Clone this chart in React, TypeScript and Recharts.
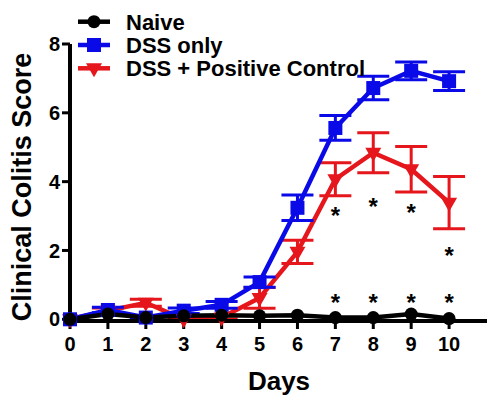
import React from 'react';
import { ComposedChart, Line, Scatter, XAxis, YAxis, ErrorBar, Label } from 'recharts';

const days = [0, 1, 2, 3, 4, 5, 6, 7, 8, 9, 10];
const naive = [0, 0.15, 0.05, 0.1, 0.12, 0.1, 0.12, 0.05, 0.05, 0.15, 0.02];
const dssOnly = [0, 0.27, 0.05, 0.25, 0.42, 1.08, 3.24, 5.56, 6.72, 7.22, 6.92];
const dssOnlyErr = [0, 0.08, 0.05, 0.08, 0.1, 0.15, 0.37, 0.36, 0.34, 0.26, 0.27];
const posCtrl = [0, 0.25, 0.48, 0, 0.05, 0.62, 1.96, 4.07, 4.84, 4.36, 3.39];
const posCtrlErr = [0, 0.08, 0.1, 0.05, 0.05, 0.3, 0.34, 0.48, 0.58, 0.66, 0.76];
const starDays = [7, 8, 9, 10, 7, 8, 9, 10];
const starValues = [3.18, 3.44, 3.26, 2.02, 0.65, 0.65, 0.65, 0.65];
const yTicks = [0, 2, 4, 6, 8];
const seriesNames = ['Naive', 'DSS only', 'DSS + Positive Control'];

const BLUE = '#0a0ae8';
const RED = '#e5161c';
const BLACK = '#000000';
const FONT = '"Liberation Sans", Arial, Helvetica, sans-serif';

const data = days.map((d, i) => ({
  day: d,
  naive: naive[i],
  dss: dssOnly[i],
  dssErr: dssOnlyErr[i],
  pc: posCtrl[i],
  pcErr: posCtrlErr[i],
}));

const stars = starDays.map((d, i) => ({ day: d, y: starValues[i] }));

const Square = ({ cx, cy }: any) =>
  cx == null || cy == null ? null : <rect x={cx - 7} y={cy - 7} width={14} height={14} fill={BLUE} />;
const Tri = ({ cx, cy }: any) =>
  cx == null || cy == null ? null : (
    <polygon points={`${cx - 8},${cy - 5} ${cx + 8},${cy - 5} ${cx},${cy + 9}`} fill={RED} />
  );
const Circ = ({ cx, cy }: any) =>
  cx == null || cy == null ? null : <circle cx={cx} cy={cy} r={6.5} fill={BLACK} />;

const StarShape = ({ cx, cy }: any) =>
  cx == null || cy == null ? null : (
    <text x={cx} y={cy + 14} textAnchor="middle" fontSize={24} fontWeight="bold" fontFamily={FONT} fill="#000">
      *
    </text>
  );

const LegendBox = () => {
  const rows = [
    { name: seriesNames[0], color: BLACK, y: 21.7, m: 'c' },
    { name: seriesNames[1], color: BLUE, y: 45, m: 's' },
    { name: seriesNames[2], color: RED, y: 68.3, m: 't' },
  ];
  return (
    <svg width={400} height={85} style={{ position: 'absolute', left: 0, top: 0, display: 'block' }}>
      {rows.map((r) => (
        <g key={r.name}>
          <line x1={78} x2={110} y1={r.y} y2={r.y} stroke={r.color} strokeWidth={4.5} />
          {r.m === 'c' && <circle cx={94} cy={r.y} r={6.5} fill={r.color} />}
          {r.m === 's' && <rect x={87} y={r.y - 7} width={14} height={14} fill={r.color} />}
          {r.m === 't' && (
            <polygon points={`86,${r.y - 5} 102,${r.y - 5} 94,${r.y + 9}`} fill={r.color} />
          )}
          <text x={126} y={r.y + 8} fontSize={22} fontWeight="bold" fontFamily={FONT} fill="#000">
            {r.name}
          </text>
        </g>
      ))}
    </svg>
  );
};

const tickStyle = { fill: '#000', fontSize: 20, fontWeight: 'bold', fontFamily: FONT } as any;

export default function App() {
  return (
    <div style={{ position: 'absolute', left: 0, top: 0, width: 500, height: 407, background: '#fff' }}>
      <ComposedChart width={500} height={407} data={data} margin={{ top: 44, right: 13, bottom: 0, left: 0 }}>
        <XAxis
          dataKey="day"
          type="number"
          domain={[0, 10.5]}
          ticks={days}
          height={86}
          tickSize={8}
          tickMargin={8}
          tick={tickStyle}
          axisLine={{ stroke: '#000', strokeWidth: 4 }}
          tickLine={{ stroke: '#000', strokeWidth: 3 }}
          interval={0}
          allowDecimals={false}
        >
          <Label
            content={() => (
              <text x={279} y={390} textAnchor="middle" fontSize={26} fontWeight="bold" fontFamily={FONT} fill="#000">
                Days
              </text>
            )}
          />
        </XAxis>
        <YAxis
          type="number"
          domain={[0, 8]}
          ticks={yTicks}
          width={70}
          tickSize={8}
          tickMargin={2}
          tick={tickStyle}
          axisLine={{ stroke: '#000', strokeWidth: 4 }}
          tickLine={{ stroke: '#000', strokeWidth: 3 }}
          interval={0}
        >
          <Label
            content={() => (
              <text
                x={31}
                y={187}
                transform="rotate(-90, 31, 187)"
                textAnchor="middle"
                fontSize={27}
                fontWeight="bold"
                fontFamily={FONT}
                fill="#000"
              >
                Clinical Colitis Score
              </text>
            )}
          />
        </YAxis>
        <Line
          dataKey="pc"
          name={seriesNames[2]}
          stroke={RED}
          strokeWidth={4.5}
          dot={<Tri />}
          activeDot={false}
          isAnimationActive={false}
        >
          <ErrorBar dataKey="pcErr" width={16} strokeWidth={3} stroke={RED} direction="y" />
        </Line>
        <Line
          dataKey="dss"
          name={seriesNames[1]}
          stroke={BLUE}
          strokeWidth={4.5}
          dot={<Square />}
          activeDot={false}
          isAnimationActive={false}
        >
          <ErrorBar dataKey="dssErr" width={16} strokeWidth={3} stroke={BLUE} direction="y" />
        </Line>
        <Line
          dataKey="naive"
          name={seriesNames[0]}
          stroke={BLACK}
          strokeWidth={4.5}
          dot={<Circ />}
          activeDot={false}
          isAnimationActive={false}
        />
        <Scatter data={stars} dataKey="y" shape={<StarShape />} isAnimationActive={false} legendType="none" />
      </ComposedChart>
      <LegendBox />
    </div>
  );
}
